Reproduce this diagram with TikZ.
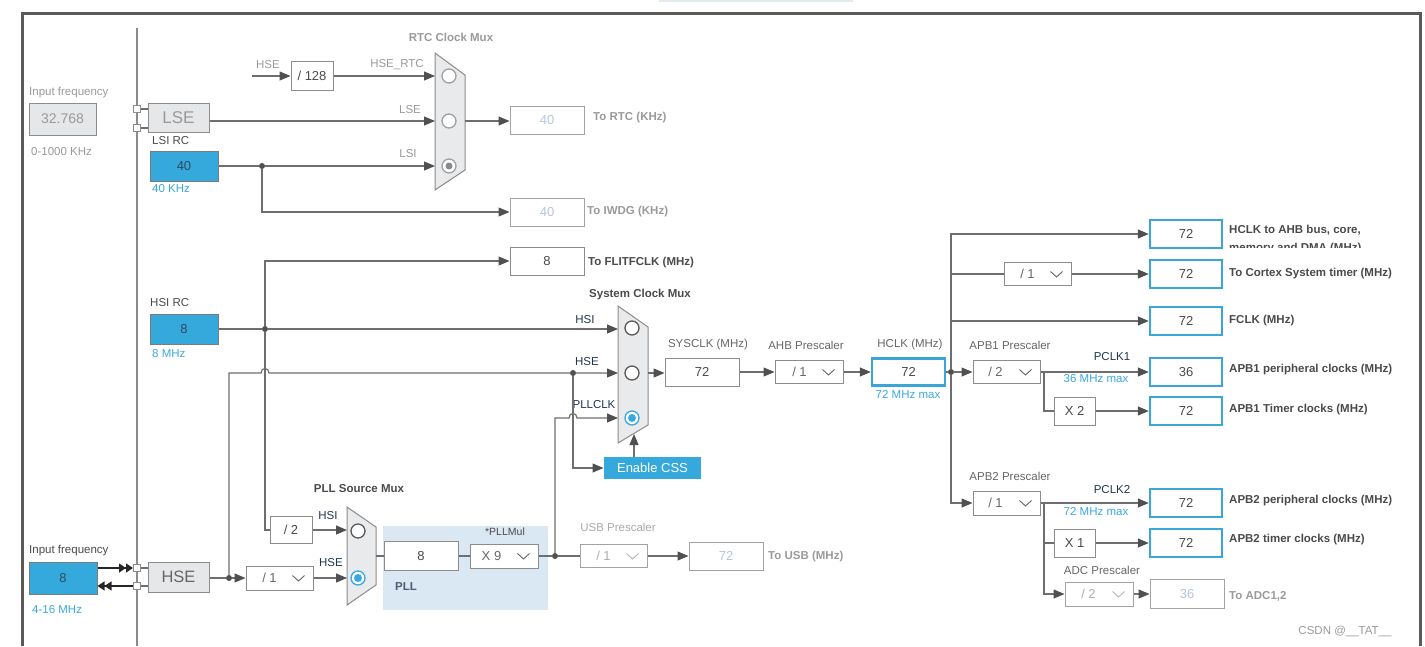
\documentclass[tikz,border=0pt]{standalone}
\usepackage{fontspec}
\setmainfont{Liberation Sans}
\usetikzlibrary{arrows.meta}
\definecolor{lc}{HTML}{6E6E6E}
\definecolor{framec}{HTML}{5A5A5A}
\definecolor{stripc}{HTML}{E2EAEE}
\definecolor{vlc}{HTML}{8A8A8A}
\definecolor{bxc}{HTML}{8C8C8C}
\definecolor{bluef}{HTML}{36A9DC}
\definecolor{blueb}{HTML}{3AA6D8}
\definecolor{bluet}{HTML}{3AA8E0}
\definecolor{grayf}{HTML}{E6E7E8}
\definecolor{muxf}{HTML}{E8EAEC}
\definecolor{darkt}{HTML}{4A4A4A}
\definecolor{midt}{HTML}{666666}
\definecolor{grayt}{HTML}{9A9A9A}
\definecolor{lightn}{HTML}{B4C7DA}
\definecolor{navyt}{HTML}{1F3550}
\definecolor{numt}{HTML}{4A4A4A}
\definecolor{bnumt}{HTML}{2E4A5E}
\definecolor{pllc}{HTML}{DAE8F4}
\definecolor{dotc}{HTML}{505050}
\newcommand{\fsz}[1]{\fontsize{#1}{#1}\selectfont}
\newcommand{\ddv}[2][chv]{\draw[#1] ([xshift=-21pt,yshift=2.5pt]#2.east) -- ([xshift=-15pt,yshift=-3pt]#2.east) -- ([xshift=-9pt,yshift=2.5pt]#2.east);}
\tikzset{
  ln/.style={draw=lc, line width=1.2pt},
  arr/.style={ln, -{Triangle[length=11pt,width=9pt,color=dotc]}},
  dbl/.style={draw=black!85, line width=1.2pt, -{Triangle[length=7pt,width=9pt] Triangle[length=7pt,width=9pt]}},
  chv/.style={draw=midt, line width=0.9pt},
  chvl/.style={draw=grayt!70, line width=0.9pt},
  txt/.style={inner sep=0pt, font=\fsz{11.5}},
  gtxt/.style={txt, text=grayt},
  dtxt/.style={txt, text=darkt},
  mtxt/.style={txt, text=midt},
  ntxt/.style={txt, text=navyt},
  btxt/.style={txt, text=bluet},
  bold/.style={txt, font=\fsz{11.5}\bfseries, text=darkt},
  gbold/.style={txt, font=\fsz{11.5}\bfseries, text=grayt},
  box/.style={draw=bxc, fill=white, line width=1pt, inner sep=0pt, font=\fsz{13}, text=numt, minimum width=74pt, minimum height=28pt},
  lbox/.style={box, draw=bxc!80, text=lightn},
  obox/.style={box, draw=blueb, line width=2.4pt, minimum width=72pt, minimum height=28pt},
  gbox/.style={draw=bxc, fill=grayf, line width=1pt, inner sep=0pt, text=grayt},
  bbox/.style={draw=framec!80, fill=bluef, line width=1pt, inner sep=0pt, font=\fsz{13}, text=bnumt},
  ddb/.style={draw=bxc, fill=white, line width=1pt, inner sep=0pt, minimum width=67pt, minimum height=23pt},
  ddt/.style={inner sep=0pt, font=\fsz{13}, text=midt},
  sq/.style={draw=bxc, fill=white, line width=1pt, minimum size=7pt, inner sep=0pt},
  jdot/.style={circle, fill=dotc, minimum size=6pt, inner sep=0pt},
  rb/.style={circle, draw=framec, fill=white, line width=1.3pt, minimum size=14pt, inner sep=0pt},
  rbg/.style={rb, draw=vlc!80},
  rbs/.style={rb, draw=bluet},
  muxs/.style={draw=bxc, fill=muxf, line width=1pt},
}
\begin{document}
\begin{tikzpicture}[x=1pt,y=-1pt]
\useasboundingbox (0,0) rectangle (1425,646);
% frame
\fill[stripc] (659,0) rectangle (853,2);
\draw[framec, line width=3pt] (22,646) -- (22,13) -- (1420,13) -- (1420,646);
\draw[vlc, line width=1.2pt] (137,28) -- (137,646);

% ===== top-left: LSE input
\node[gtxt, anchor=west] (tInF) at (29,93) {Input frequency};
\node[gbox, minimum width=67pt, minimum height=32pt, font=\fsz{14}] (inLSE) at (62.5,119) {32.768};
\node[gtxt, anchor=west] (tLSErg) at (31,152) {0-1000 KHz};
\node[gbox, minimum width=61pt, minimum height=29pt, font=\fsz{17}] (lse) at (178.5,118) {LSE};
\node[sq] (sq1) at (137,109) {};
\node[sq] (sq2) at (137,128) {};
\draw[ln] (sq1) -- (sq1 -| lse.west);
\draw[ln] (sq2) -- (sq2 -| lse.west);

% LSI
\node[dtxt, anchor=west] (tLSI) at (152,141) {LSI RC};
\node[bbox, minimum width=68pt, minimum height=30pt] (lsi) at (184,166) {40};
\node[btxt, anchor=west] (tLSIf) at (152,189) {40 KHz};

% RTC mux
\node[gbold] (tRTCmux) at (451,37) {RTC Clock Mux};
\draw[muxs] (435,53) -- (465,75) -- (465,170) -- (435,190) -- cycle;
\coordinate (rtcI1) at (435,76);
\coordinate (rtcI2) at (435,121);
\coordinate (rtcI3) at (435,166);
\coordinate (rtcO) at (465,121);
\node[rbg] (rc1) at (449,76) {};
\node[rbg] (rc2) at (449,121) {};
\node[rbg] (rc3) at (449,166) {};
\fill[vlc] (rc3) circle (3.5);

\coordinate (hseIn) at (252,76);
\node[gtxt] (tHSEs) at (268,65) {HSE};
\node[box, minimum width=42pt, minimum height=29pt] (d128) at (312,76) {/ 128};
\draw[arr] (hseIn) -- (d128);
\draw[arr] (d128) -- (rtcI1);
\node[gtxt] (tHSErtc) at (397,65) {HSE\_RTC};
\draw[arr] (lse.east |- rtcI2) -- (rtcI2);
\node[gtxt] (tLSEl) at (410,110) {LSE};
\node[jdot] (j1) at (262,166) {};
\draw[ln] (lsi) -- (j1);
\draw[arr] (j1) -- (rtcI3);
\node[gtxt] (tLSIl) at (408,154) {LSI};

\node[lbox] (rtc) at (547,120) {40};
\draw[arr] (rtcO) -- (rtc.west |- rtcO);
\node[gbold, anchor=west] (tRTC) at (593,118) {To RTC (KHz)};
\node[lbox] (iwdg) at (547,212) {40};
\draw[arr] (j1) |- (iwdg);
\node[gbold, anchor=west] (tIWDG) at (587,212) {To IWDG (KHz)};

% ===== HSI
\node[box] (flit) at (547,261) {8};
\node[bold, anchor=west] (tFLIT) at (588,263) {To FLITFCLK (MHz)};
\node[dtxt, anchor=west] (tHSI) at (150,303) {HSI RC};
\node[bbox, minimum width=68pt, minimum height=30pt] (hsi) at (184,329) {8};
\node[btxt, anchor=west] (tHSIf) at (152,354) {8 MHz};
\node[jdot] (j2) at (265,329) {};

% System clock mux
\node[bold] (tSysMux) at (640,295) {System Clock Mux};
\draw[muxs] (618,306) -- (648,327) -- (648,425) -- (618,443) -- cycle;
\coordinate (sysI1) at (618,329);
\coordinate (sysI2) at (618,373);
\coordinate (sysI3) at (618,418);
\coordinate (sysO) at (648,373);
\coordinate (sysB) at (634,434);
\node[rb] (sc1) at (632,328) {};
\node[rb] (sc2) at (632,373) {};
\node[rbs] (sc3) at (632,418) {};
\fill[bluet] (sc3) circle (4);

\draw[ln] (hsi) -- (j2);
\draw[arr] (j2) -- (sysI1);
\draw[arr] (j2) |- (flit);
\node[ntxt] (tHSIm) at (585,320) {HSI};
\node[ntxt] (tHSEm) at (587,362) {HSE};
\node[ntxt] (tPLLm) at (594,405) {PLLCLK};

% ===== bottom-left HSE input
\node[dtxt, anchor=west] (tInF2) at (29,551) {Input frequency};
\node[bbox, minimum width=68pt, minimum height=32pt] (inHSE) at (63,578) {8};
\node[btxt, anchor=west] (tHSErg) at (32,610) {4-16 MHz};
\node[gbox, minimum width=61pt, minimum height=30pt, font=\fsz{16.5}, text=midt] (hse) at (178.5,577) {HSE};
\node[sq] (sq3) at (137,568) {};
\node[sq] (sq4) at (137,586) {};
\draw[dbl] (inHSE.east |- sq3) -- (sq3);
\draw[dbl] (sq4) -- (inHSE.east |- sq4);
\draw[ln] (sq3) -- (sq3 -| hse.west);
\draw[ln] (sq4) -- (sq4 -| hse.west);
\node[jdot] (j3) at (229,578) {};
\draw[ln] (hse.east |- j3) -- (j3);

% HSE to system mux, with hop over HSI vertical
\node[jdot] (j4) at (573,373) {};
\draw[arr] (j3) -- (229,373) -- (261,373) .. controls (261,367) and (269,367) .. (269,373) -- (j4) -- (sysI2);
\node[box, draw=none, fill=bluef, text=white, minimum width=97pt, minimum height=22pt] (css) at (652.5,468) {Enable CSS};
\draw[arr] (j4) |- (css);
\draw[arr] (css.north -| sysB) -- (sysB);

% PLL source mux
\node[bold] (tPLLsrc) at (359,489) {PLL Source Mux};
\fill[pllc] (383,526) rectangle (548,610);
\draw[muxs] (347,507) -- (376,527) -- (376,585) -- (347,605) -- cycle;
\coordinate (pI1) at (347,530);
\coordinate (pI2) at (347,578);
\coordinate (pO) at (376,556);
\node[rb] (pc1) at (358,531) {};
\node[rbs] (pc2) at (358,578) {};
\fill[bluet] (pc2) circle (4);

\node[box, minimum width=42pt, minimum height=27pt] (d2) at (291,530) {/ 2};
\draw[ln] (j2) |- (d2);
\draw[arr] (d2) -- (pI1);
\node[ntxt] (tHSIp) at (328,516) {HSI};
\node[ddb, minimum height=24pt] (dhse) at (279.5,578) {};
\node[ddt] (dhset) at ([xshift=24pt]dhse.west) {/ 1};
\ddv{dhse}
\draw[arr] (j3) -- (dhse);
\draw[arr] (dhse) -- (pI2);
\node[ntxt] (tHSEp) at (331,563) {HSE};

% PLL
\node[box, minimum height=29pt] (pll8) at (421,556) {8};
\draw[ln] (pO) -- (pll8);
\node[ddb, minimum width=68pt, minimum height=24pt] (mul) at (504,556) {};
\node[ddt] (mult) at ([xshift=22pt]mul.west) {X 9};
\ddv{mul}
\draw[ln] (pll8) -- (mul);
\node[txt, font=\fsz{10.5}, text=darkt] (tMul) at (505,532) {*PLLMul};
\node[bold, text=navyt!80] (tPLL) at (406,587) {PLL};
\node[jdot] (j5) at (555,556) {};
\draw[ln] (mul) -- (j5);
\draw[arr] (j5) -- (555,418) -- (569,418) .. controls (569,412) and (577,412) .. (577,418) -- (sysI3);

% USB
\node[txt, text=grayt!85] (tUSBp) at (618,527) {USB Prescaler};
\node[ddb, draw=bxc!80] (usb) at (613.5,556) {};
\node[ddt, text=grayt!80] (usbt) at ([xshift=24pt]usb.west) {/ 1};
\ddv[chvl]{usb}
\draw[ln] (j5) -- (usb);
\node[lbox] (usbo) at (726,556) {72};
\draw[arr] (usb) -- (usbo);
\node[gbold, anchor=west] (tUSB) at (768,557) {To USB (MHz)};

% ===== SYSCLK, AHB, HCLK
\node[box] (sysclk) at (702,372) {72};
\node[mtxt] (tSYS) at (708,345) {SYSCLK (MHz)};
\draw[arr] (sysO) -- (sysclk.west |- sysO);
\node[ddb, minimum width=68pt] (ahb) at (809,372) {};
\node[ddt] (ahbt) at ([xshift=25pt]ahb.west) {/ 1};
\ddv{ahb}
\node[mtxt] (tAHB) at (806,345) {AHB Prescaler};
\draw[arr] (sysclk) -- (ahb);
\node[obox, minimum width=73pt, minimum height=27pt] (hclk) at (908.5,372) {72};
\node[mtxt] (tHCLK) at (910,345) {HCLK (MHz)};
\node[btxt] (tHmax) at (908,395) {72 MHz max};
\draw[arr] (ahb) -- (hclk);
\node[jdot] (j6) at (951,372) {};
\draw[ln] (hclk) -- (j6);

% ===== right side outputs
\node[obox] (o1) at (1186,234) {72};
\node[obox] (o2) at (1186,274) {72};
\node[obox] (o3) at (1186,321) {72};
\node[obox] (o4) at (1186,372) {36};
\node[obox] (o5) at (1186,411) {72};
\node[obox] (o6) at (1186,503) {72};
\node[obox] (o7) at (1186,543) {72};
\node[lbox, minimum width=74pt, minimum height=29pt] (o8) at (1187,594) {36};

\draw[arr] (j6) |- (o1);
\node[ddb] (cortex) at (1037.5,274) {};
\node[ddt] (cortext) at ([xshift=24pt]cortex.west) {/ 1};
\ddv{cortex}
\draw[ln] (j6) |- (cortex);
\draw[arr] (cortex) -- (o2);
\draw[arr] (j6) |- (o3);

\node[ddb] (apb1) at (1006.5,372) {};
\node[ddt] (apb1t) at ([xshift=23pt]apb1.west) {/ 2};
\ddv{apb1}
\node[mtxt] (tAPB1) at (1010,345) {APB1 Prescaler};
\draw[arr] (j6) -- (apb1);
\draw[arr] (apb1) -- (o4);
\node[ntxt] (tPCLK1) at (1112,357) {PCLK1};
\node[btxt] (t36max) at (1096,379) {36 MHz max};
\coordinate (b1) at (1044,372);
\node[box, minimum width=41pt, minimum height=28pt] (x2) at (1074.5,411) {X 2};
\draw[ln] (b1) |- (x2);
\draw[arr] (x2) -- (o5);

\node[ddb, minimum height=24pt] (apb2) at (1006.5,503) {};
\node[ddt] (apb2t) at ([xshift=23pt]apb2.west) {/ 1};
\ddv{apb2}
\node[mtxt] (tAPB2) at (1010,476) {APB2 Prescaler};
\draw[arr] (j6) |- (apb2);
\draw[arr] (apb2) -- (o6);
\node[ntxt] (tPCLK2) at (1112,490) {PCLK2};
\node[btxt] (t72max) at (1096,512) {72 MHz max};
\coordinate (b2) at (1044,503);
\node[box, minimum width=41pt, minimum height=28pt] (x1) at (1074.5,543) {X 1};
\draw[ln] (b2) |- (x1);
\draw[arr] (x1) -- (o7);
\node[ddb, draw=bxc!80, minimum width=68pt, minimum height=24pt] (adc) at (1099,594) {};
\node[ddt, text=grayt!80] (adct) at ([xshift=24pt]adc.west) {/ 2};
\ddv[chvl]{adc}
\node[mtxt] (tADCp) at (1102,570) {ADC Prescaler};
\draw[arr] (b2) |- (adc);
\draw[arr] (adc) -- (o8);

% output labels
\node[bold, anchor=west] (l1) at (1229,230) {HCLK to AHB bus, core,};
\begin{scope}
\clip (1225,238) rectangle (1419,247.5);
\node[bold, anchor=west] (l1b) at (1229,249) {memory and DMA (MHz)};
\end{scope}
\node[bold, anchor=west] (l2) at (1229,274) {To Cortex System timer (MHz)};
\node[bold, anchor=west] (l3) at (1229,321) {FCLK (MHz)};
\node[bold, anchor=west] (l4) at (1229,370) {APB1 peripheral clocks (MHz)};
\node[bold, anchor=west] (l5) at (1229,410) {APB1 Timer clocks (MHz)};
\node[bold, anchor=west] (l6) at (1229,501) {APB2 peripheral clocks (MHz)};
\node[bold, anchor=west] (l7) at (1229,540) {APB2 timer clocks (MHz)};
\node[gbold, anchor=west] (l8) at (1229,596) {To ADC1,2};

\node[txt, text=grayt] (wm) at (1345,631) {CSDN @\_\_TAT\_\_};
\end{tikzpicture}
\end{document}
